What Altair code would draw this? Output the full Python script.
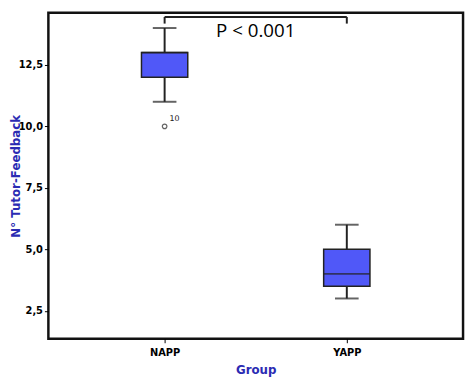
import altair as alt
import pandas as pd

groups = ["NAPP", "YAPP"]
positions = [1, 2]
whisker_low = [11, 3]
q1 = [12, 3.5]
median = [13, 4]
q3 = [13, 5]
whisker_high = [14, 6]

outlier_group = ["NAPP"]
outlier_pos = [1]
outlier_value = [10]
outlier_label = ["10"]

bracket_x = [1, 2]
bracket_top = 14.45
bracket_drop = 14.18
p_text = ["P < 0.001"]
p_pos = [1.5]
p_y = [13.88]

box = pd.DataFrame({"group": groups, "pos": positions, "lo": whisker_low, "q1": q1,
                    "med": median, "q3": q3, "hi": whisker_high})
outl = pd.DataFrame({"group": outlier_group, "pos": outlier_pos, "v": outlier_value, "lab": outlier_label})
brk = pd.DataFrame({"x": bracket_x, "top": [bracket_top] * 2, "drop": [bracket_drop] * 2})
ptxt = pd.DataFrame({"x": p_pos, "y": p_y, "t": p_text})

xscale = alt.Scale(domain=[0.389, 2.611], nice=False, zero=False)
yscale = alt.Scale(domain=[1.36, 14.62], nice=False, zero=False)

label_expr_x = "datum.value == 1 ? 'NAPP' : (datum.value == 2 ? 'YAPP' : '')"
xaxis = alt.Axis(values=[1, 2], labelExpr=label_expr_x, title="Group", grid=False, domain=False,
                 tickColor="black", tickSize=4, labelFont="DejaVu Sans", labelFontWeight="bold",
                 labelFontSize=10, labelColor="black", titleColor="#2b2bb3", titleFont="DejaVu Sans",
                 titleFontSize=12, titleFontWeight="bold", labelPadding=5, titlePadding=7)
yaxis = alt.Axis(values=[2.5, 5, 7.5, 10, 12.5],
                 labelExpr="replace(format(datum.value, '.1f'), '.', ',')",
                 title="N° Tutor-Feedback", grid=False, domain=False, tickColor="black", tickSize=4,
                 labelFont="DejaVu Sans", labelFontWeight="bold", labelFontSize=10, labelColor="black",
                 titleColor="#2b2bb3", titleFont="DejaVu Sans", titleFontSize=12, titleFontWeight="bold",
                 labelPadding=2, titlePadding=-4)

base = alt.Chart(box)
x = alt.X("pos:Q", scale=xscale, axis=xaxis)

whisk_lo = base.mark_rule(color="#222", strokeWidth=2).encode(
    x=x, y=alt.Y("lo:Q", scale=yscale, axis=yaxis), y2="q1:Q")
whisk_hi = base.mark_rule(color="#222", strokeWidth=2).encode(x="pos:Q", y="q3:Q", y2="hi:Q")
cap_lo = base.mark_tick(color="#222", thickness=2, size=24, orient="horizontal").encode(x="pos:Q", y="lo:Q")
cap_hi = base.mark_tick(color="#222", thickness=2, size=24, orient="horizontal").encode(x="pos:Q", y="hi:Q")
boxes = base.mark_bar(size=47, orient="vertical", color="#5058f8", stroke="#222", strokeWidth=1.5).encode(
    x="pos:Q", y="q1:Q", y2="q3:Q")
meds = base.mark_tick(color="#222", thickness=1.6, size=47, orient="horizontal").encode(x="pos:Q", y="med:Q")

out_pts = alt.Chart(outl).mark_point(shape="circle", size=22, color="#222", filled=False, strokeWidth=1.2).encode(
    x="pos:Q", y="v:Q")
out_lab = alt.Chart(outl).mark_text(fontSize=8, font="DejaVu Sans", align="left", dx=5, dy=-7, color="#222").encode(
    x="pos:Q", y="v:Q", text="lab:N")

brk_top = alt.Chart(brk).mark_line(color="#222", strokeWidth=2).encode(x="x:Q", y="top:Q")
brk_ends = alt.Chart(brk).mark_rule(color="#222", strokeWidth=2).encode(x="x:Q", y="top:Q", y2="drop:Q")
p_label = alt.Chart(ptxt).mark_text(fontSize=19, font="Open Sans", color="black").encode(
    x="x:Q", y="y:Q", text="t:N")

chart = alt.layer(whisk_lo, whisk_hi, cap_lo, cap_hi, boxes, meds, out_pts, out_lab,
                  brk_top, brk_ends, p_label).properties(
    width=421, height=331,
    autosize=alt.AutoSizeParams(type="none"),
    padding={"left": 41, "top": 2, "right": 3, "bottom": 40},
    background="white",
).configure_view(stroke="#111", strokeWidth=2.5)

chart.save("out.html", embed_options={"renderer": "svg", "actions": False})
